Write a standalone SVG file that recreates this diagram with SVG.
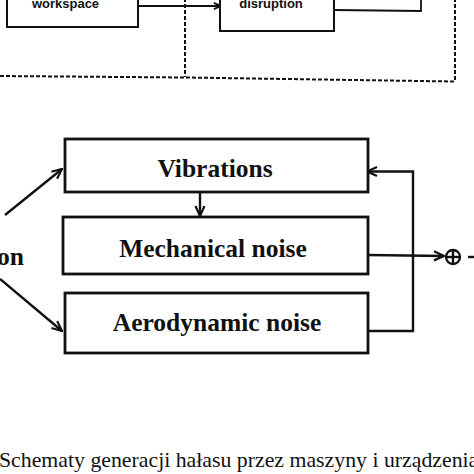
<svg xmlns="http://www.w3.org/2000/svg" width="474" height="474" viewBox="0 0 474 474">
<style>
.box{fill:#fff;stroke:#111;stroke-width:2.8}
.tbox{fill:#fff;stroke:#111;stroke-width:2}
.ln{fill:none;stroke:#111;stroke-width:2.4}
.tln{fill:none;stroke:#111;stroke-width:1.8}
.dash{fill:none;stroke:#111;stroke-width:2;stroke-dasharray:4 2}
.lbl{font-family:"Liberation Serif","Times New Roman",serif;font-weight:bold;font-size:25.5px;fill:#111;text-anchor:middle}
.slbl{font-family:"Liberation Sans",Arial,sans-serif;font-weight:bold;font-size:13px;fill:#111;text-anchor:middle}
.cap{font-family:"Liberation Serif","Times New Roman",serif;font-size:21.8px;fill:#111}
</style>
<defs>
<marker id="ah" viewBox="0 0 12 12" refX="11" refY="6" markerWidth="12" markerHeight="12" markerUnits="userSpaceOnUse" orient="auto">
<path d="M1,1.5 L11,6 L1,10.5" fill="none" stroke="#111" stroke-width="2.2"/>
</marker>
<marker id="ahs" viewBox="0 0 10 10" refX="9" refY="5" markerWidth="9" markerHeight="9" markerUnits="userSpaceOnUse" orient="auto">
<path d="M1,1.5 L9,5 L1,8.5" fill="none" stroke="#111" stroke-width="2"/>
</marker>
</defs>
<rect width="474" height="474" fill="#fff"/>
<g id="connectors">
<line class="tln" x1="138" y1="6" x2="221" y2="6" marker-end="url(#ahs)"/>
<polyline class="tln" points="334,10 421,11 421,-2"/>
<line class="dash" x1="185" y1="-2" x2="185" y2="77"/>
<polyline class="dash" points="0,76 185,77.5 455,81.5"/>
<line class="dash" x1="455" y1="-2" x2="455" y2="81.5"/>
<line class="ln" x1="5" y1="215" x2="62" y2="169" marker-end="url(#ah)"/>
<line class="ln" x1="0" y1="279" x2="62" y2="331" marker-end="url(#ah)"/>
<line class="ln" x1="200" y1="192" x2="200" y2="216" marker-end="url(#ah)"/>
<polyline class="ln" points="368,331 413,331 413,171.5 367,171.5" marker-end="url(#ah)"/>
<line class="ln" x1="368" y1="255" x2="444" y2="256" marker-end="url(#ah)"/>
<line class="ln" x1="468" y1="257" x2="476" y2="257"/>
</g>
<g id="workspace">
<rect class="tbox" x="7" y="-10" width="131" height="37"/>
<text class="slbl" x="65.5" y="7.5">workspace</text>
</g>
<g id="disruption">
<rect class="tbox" x="220" y="-10" width="114" height="41"/>
<text class="slbl" x="271" y="8">disruption</text>
</g>
<g id="vibrations">
<rect class="box" x="65" y="139" width="303" height="53"/>
<text class="lbl" x="215" y="177">Vibrations</text>
</g>
<g id="mechanical">
<rect class="box" x="63" y="217" width="305" height="57"/>
<text class="lbl" x="213" y="257">Mechanical noise</text>
</g>
<g id="aerodynamic">
<rect class="box" x="65" y="293" width="303" height="60"/>
<text class="lbl" x="217" y="331">Aerodynamic noise</text>
</g>
<g id="source">
<text class="lbl" x="24" y="265" style="text-anchor:end">on</text>
</g>
<g id="sum">
<circle cx="453" cy="257" r="7" fill="#fff" stroke="#111" stroke-width="2.3"/>
<line class="ln" x1="446" y1="257" x2="460" y2="257"/>
<line class="ln" x1="453" y1="250" x2="453" y2="264"/>
</g>
<text class="cap" x="-1" y="467">Schematy generacji hałasu przez maszyny i urządzenia</text>
</svg>
